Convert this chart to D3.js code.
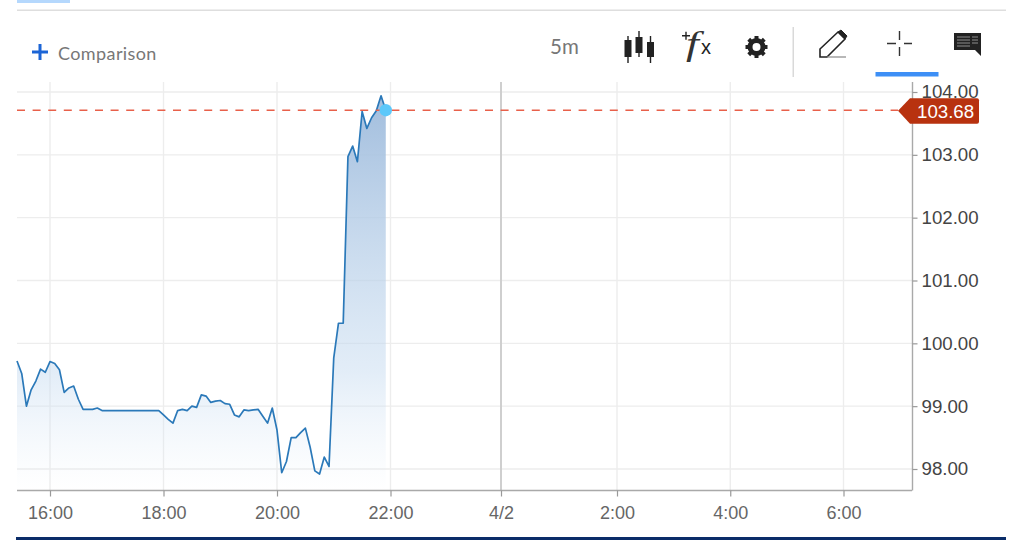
<!DOCTYPE html>
<html><head><meta charset="utf-8">
<script src="https://cdnjs.cloudflare.com/ajax/libs/d3/7.8.5/d3.min.js"></script>
<style>html,body{margin:0;padding:0;background:#fff;overflow:hidden}svg{display:block}</style>
</head><body><svg id="c" width="1024" height="540"></svg>
<script>
const startTime = "2024-04-01T15:25:00";
const stepMinutes = 5;
const prices = [99.72,99.52,99.0,99.26,99.40,99.59,99.54,99.71,99.68,99.58,99.22,99.29,99.32,99.11,98.95,98.95,98.95,98.97,98.93,
98.93,98.93,98.93,98.93,98.93,98.93,98.93,98.93,98.93,98.93,98.93,98.93,98.86,98.79,98.73,98.93,98.95,98.93,99.0,98.98,
99.18,99.16,99.06,99.08,99.09,99.04,99.03,98.86,98.83,98.94,98.93,98.94,98.95,98.84,98.73,98.97,98.62,97.94,98.12,98.5,98.5,98.58,98.65,98.35,97.97,97.92,98.19,98.04,
99.77,100.32,100.32,102.97,103.14,102.89,103.69,103.42,103.59,103.70,103.94,103.71];
const yTicks = [98,99,100,101,102,103,104];
const xTickTimes = ["2024-04-01T16:00:00","2024-04-01T18:00:00","2024-04-01T20:00:00","2024-04-01T22:00:00","2024-04-02T00:00:00","2024-04-02T02:00:00","2024-04-02T04:00:00","2024-04-02T06:00:00"];
const xTickLabels = ["16:00","18:00","20:00","22:00","4/2","2:00","4:00","6:00"];
const lastPriceLabel = "103.68";

const svg = d3.select("#c");
const FONT = "'Liberation Sans',Arial,sans-serif";
const L=17,R=912,T=82,B=490.5;
const times = prices.map((_,i)=>new Date(new Date(startTime).getTime()+i*stepMinutes*60000));
const xDates = xTickTimes.map(d=>new Date(d));
const x = d3.scaleTime()
  .domain([new Date("2024-04-01T15:25:00"),xDates[0],xDates[3],xDates[4],xDates[5],xDates[7],new Date("2024-04-02T07:14:00")])
  .range([17,50,390.5,501,617,843.5,912]);
const y = d3.scaleLinear().domain([98,104]).range([469,92]);

// top rules
svg.append("rect").attr("x",17).attr("y",0).attr("width",53).attr("height",3).attr("fill","#b5d8fd");
svg.append("rect").attr("x",17).attr("y",9.5).attr("width",989).attr("height",1.5).attr("fill","#dedede");
svg.append("rect").attr("x",16).attr("y",537).attr("width",990).attr("height",3).attr("fill","#0a2c68");

// gradient
const defs = svg.append("defs");
const g = defs.append("linearGradient").attr("id","fillg").attr("gradientUnits","userSpaceOnUse")
  .attr("x1",0).attr("x2",0).attr("y1",96).attr("y2",B);
g.append("stop").attr("offset",0).attr("stop-color","#a1bddd").attr("stop-opacity",1);
g.append("stop").attr("offset",0.7).attr("stop-color","#c6dbf0").attr("stop-opacity",0.5);
g.append("stop").attr("offset",1).attr("stop-color","#dce9f7").attr("stop-opacity",0);

// grid
const grid = svg.append("g");
grid.selectAll("line.h").data(yTicks).join("line").attr("x1",L).attr("x2",R)
  .attr("y1",d=>y(d)).attr("y2",d=>y(d)).attr("stroke","#ededed").attr("stroke-width",1.4);
grid.selectAll("line.v").data(xDates).join("line")
  .attr("x1",d=>x(d)).attr("x2",d=>x(d)).attr("y1",T).attr("y2",B)
  .attr("stroke",(d,i)=>i===4?"#cfcfcf":"#ededed").attr("stroke-width",(d,i)=>i===4?2:1.4);

// area + line
const area = d3.area().x((d,i)=>x(times[i])).y0(B).y1(d=>y(d));
const line = d3.line().x((d,i)=>x(times[i])).y(d=>y(d));
svg.append("path").datum(prices).attr("d",area).attr("fill","url(#fillg)");
svg.append("path").datum(prices).attr("d",line).attr("fill","none").attr("stroke","#2b79b9").attr("stroke-width",1.7).attr("stroke-linejoin","round");

// axes
const axX = d3.axisBottom(x).tickValues(xDates).tickFormat((d,i)=>xTickLabels[i]).tickSize(6).tickPadding(10);
const gx = svg.append("g").attr("transform",`translate(0,${B})`).call(axX);
const axY = d3.axisRight(y).tickValues(yTicks).tickFormat(d3.format(".2f")).tickSize(5).tickPadding(4);
const gy = svg.append("g").attr("transform",`translate(${R+.5},0)`).call(axY);
gx.select(".domain").attr("d",`M${L},0H${R}`).attr("stroke","#a9a9a9").attr("stroke-width",1.4);
gy.select(".domain").attr("d",`M0,${T}V${B}`).attr("stroke","#a9a9a9").attr("stroke-width",1.4);
gx.selectAll(".tick line").attr("stroke","#999").attr("stroke-width",1.2);
gy.selectAll(".tick line").attr("stroke","#999").attr("stroke-width",1.2);
gx.selectAll("text").attr("font-family",FONT).attr("font-size",18).attr("fill","#666");
gy.selectAll("text").attr("font-family",FONT).attr("font-size",18.7).attr("fill","#444");

// last price line & label
const yl = y(prices[prices.length-1]);
svg.append("line").attr("x1",L).attr("x2",898).attr("y1",yl).attr("y2",yl)
  .attr("stroke","#e8604a").attr("stroke-width",1.4).attr("stroke-dasharray","8,7.6");
svg.append("circle").attr("cx",x(times[times.length-1])).attr("cy",yl).attr("r",6.2).attr("fill","#5cc8fa");
svg.append("path").attr("d",`M898,${yl+.5}L910,${yl-12}H977Q979,${yl-12} 979,${yl-10}V${yl+11.5}Q979,${yl+13.5} 977,${yl+13.5}H910Z`).attr("fill","#b8320f");
svg.append("text").attr("x",917).attr("y",yl+7.5).attr("font-family",FONT).attr("font-size",18.7).attr("fill","#fff").text(lastPriceLabel);

// toolbar
svg.append("path").attr("d","M32,50.5H48V53.5H32ZM38.5,44H41.5V60H38.5Z").attr("fill","#1c65d6");
svg.append("text").attr("x",58).attr("y",59.5).attr("font-family","Lato,sans-serif").attr("font-size",18).attr("fill","#777").attr("letter-spacing",.4).text("Comparison");
svg.append("text").attr("x",550).attr("y",54).attr("font-family","Lato,sans-serif").attr("font-size",20.5).attr("fill","#777").text("5m");
const ic = svg.append("g").attr("fill","#222");
// candles
ic.append("path").attr("d","M624.5,40h7v17h-7zM627.3,36h1.4v27h-1.4zM635.5,37h7v16h-7zM638.3,31h1.4v26h-1.4zM647,42h7v15h-7zM649.8,36h1.4v27h-1.4z");
// fx
ic.append("path").attr("d","M682,35H690V36.4H682ZM685.3,31.7H686.7V39.7H685.3Z");
svg.append("text").attr("transform","translate(686,55) scale(1.4,1)").attr("font-family","'Liberation Serif',serif").attr("font-style","italic").attr("font-size",33).attr("fill","#333").text("f");
svg.append("text").attr("x",701).attr("y",54).attr("font-family","'Liberation Sans',sans-serif").attr("font-size",20).attr("fill","#222").text("x");
// gear
const gearC=[756.5,47];
ic.append("circle").attr("cx",gearC[0]).attr("cy",gearC[1]).attr("r",6.5).attr("fill","none").attr("stroke","#222").attr("stroke-width",5);
d3.range(8).forEach(i=>{ic.append("rect").attr("x",gearC[0]-2).attr("y",gearC[1]-11).attr("width",4).attr("height",4).attr("transform",`rotate(${i*45} ${gearC[0]} ${gearC[1]})`);});
// separator
svg.append("rect").attr("x",792.5).attr("y",27).attr("width",1.5).attr("height",50).attr("fill","#d9d9d9");
// pencil
svg.append("path").attr("d","M820,56L820,49L838,32L845,39L827,57H820Z").attr("fill","none").attr("stroke","#222").attr("stroke-width",1.6);
svg.append("path").attr("d","M838,32L841,30L847,36L845,39Z").attr("fill","#222").attr("stroke","#222");
svg.append("path").attr("d","M827,57H846").attr("stroke","#888").attr("stroke-width",1.2);
// crosshair
svg.append("path").attr("d","M887,43.5H896M904,43.5H912M899.5,31V40M899.5,47V56").attr("stroke","#333").attr("stroke-width",1.4).attr("fill","none");
svg.append("rect").attr("x",875.5).attr("y",72).attr("width",63).attr("height",4.5).attr("fill","#3d8ff6");
// comment
ic.append("path").attr("d","M954,33H981V56L975,50H954Z");
svg.append("path").attr("d","M957,37H970M957,40H970M957,43H970M957,46H970M972,37H978M972,40H978M972,43H978").attr("stroke","#aaa").attr("stroke-width",.8);
</script></body></html>
